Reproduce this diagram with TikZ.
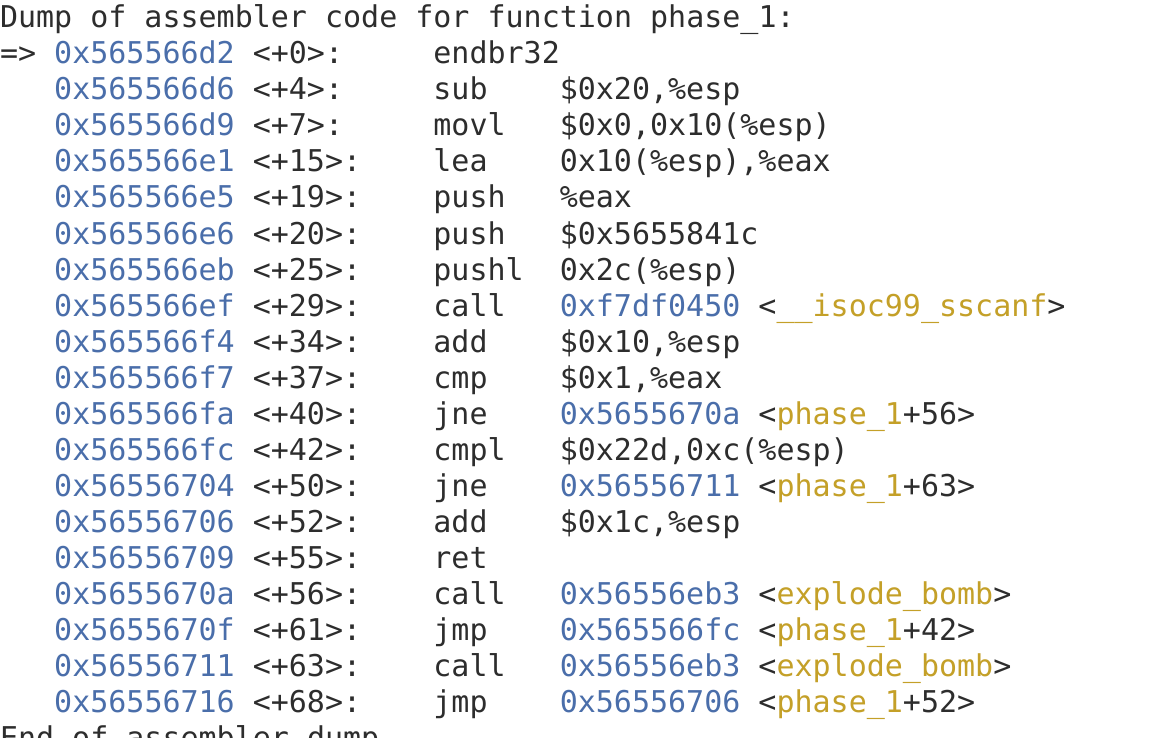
\documentclass[tikz,border=0pt]{standalone}
\usepackage{fontspec}
\setmonofont{DejaVu Sans Mono}
\definecolor{addr}{RGB}{74,110,170}
\definecolor{sym}{RGB}{196,160,40}
\definecolor{txt}{RGB}{45,45,45}
\newcommand{\Ad}[1]{\textcolor{addr}{#1}}
\newcommand{\Sy}[1]{\textcolor{sym}{#1}}
\tikzset{t/.style={anchor=base west,inner sep=0pt,outer sep=0pt,font=\fontsize{30}{36}\ttfamily,text=txt}}
\newcommand{\Ln}[6]{%
 \node[t] (a#1) at (0pt,{-28-36*#1}) {#2};
 \node[t] (b#1) at (54.2pt,{-28-36*#1}) {\Ad{#3}};
 \node[t] (c#1) at (252.8pt,{-28-36*#1}) {#4};
 \node[t] (d#1) at (433.4pt,{-28-36*#1}) {#5};
 \node[t] (e#1) at (559.8pt,{-28-36*#1}) {#6};}
\begin{document}
\begin{tikzpicture}[x=1pt,y=1pt]
\useasboundingbox[fill=white] (0,0) rectangle (1162,-738);
\node[t] (h) at (0,-28) {Dump of assembler code for function phase\_1:};
\Ln{1}{=>}{0x565566d2}{<+0>:}{endbr32}{}
\Ln{2}{}{0x565566d6}{<+4>:}{sub}{\$0x20,\%esp}
\Ln{3}{}{0x565566d9}{<+7>:}{movl}{\$0x0,0x10(\%esp)}
\Ln{4}{}{0x565566e1}{<+15>:}{lea}{0x10(\%esp),\%eax}
\Ln{5}{}{0x565566e5}{<+19>:}{push}{\%eax}
\Ln{6}{}{0x565566e6}{<+20>:}{push}{\$0x5655841c}
\Ln{7}{}{0x565566eb}{<+25>:}{pushl}{0x2c(\%esp)}
\Ln{8}{}{0x565566ef}{<+29>:}{call}{\Ad{0xf7df0450} <\Sy{\_\_isoc99\_sscanf}>}
\Ln{9}{}{0x565566f4}{<+34>:}{add}{\$0x10,\%esp}
\Ln{10}{}{0x565566f7}{<+37>:}{cmp}{\$0x1,\%eax}
\Ln{11}{}{0x565566fa}{<+40>:}{jne}{\Ad{0x5655670a} <\Sy{phase\_1}+56>}
\Ln{12}{}{0x565566fc}{<+42>:}{cmpl}{\$0x22d,0xc(\%esp)}
\Ln{13}{}{0x56556704}{<+50>:}{jne}{\Ad{0x56556711} <\Sy{phase\_1}+63>}
\Ln{14}{}{0x56556706}{<+52>:}{add}{\$0x1c,\%esp}
\Ln{15}{}{0x56556709}{<+55>:}{ret}{}
\Ln{16}{}{0x5655670a}{<+56>:}{call}{\Ad{0x56556eb3} <\Sy{explode\_bomb}>}
\Ln{17}{}{0x5655670f}{<+61>:}{jmp}{\Ad{0x565566fc} <\Sy{phase\_1}+42>}
\Ln{18}{}{0x56556711}{<+63>:}{call}{\Ad{0x56556eb3} <\Sy{explode\_bomb}>}
\Ln{19}{}{0x56556716}{<+68>:}{jmp}{\Ad{0x56556706} <\Sy{phase\_1}+52>}
\node[t] (f) at (0,{-28-36*20}) {End of assembler dump.};
\end{tikzpicture}
\end{document}
